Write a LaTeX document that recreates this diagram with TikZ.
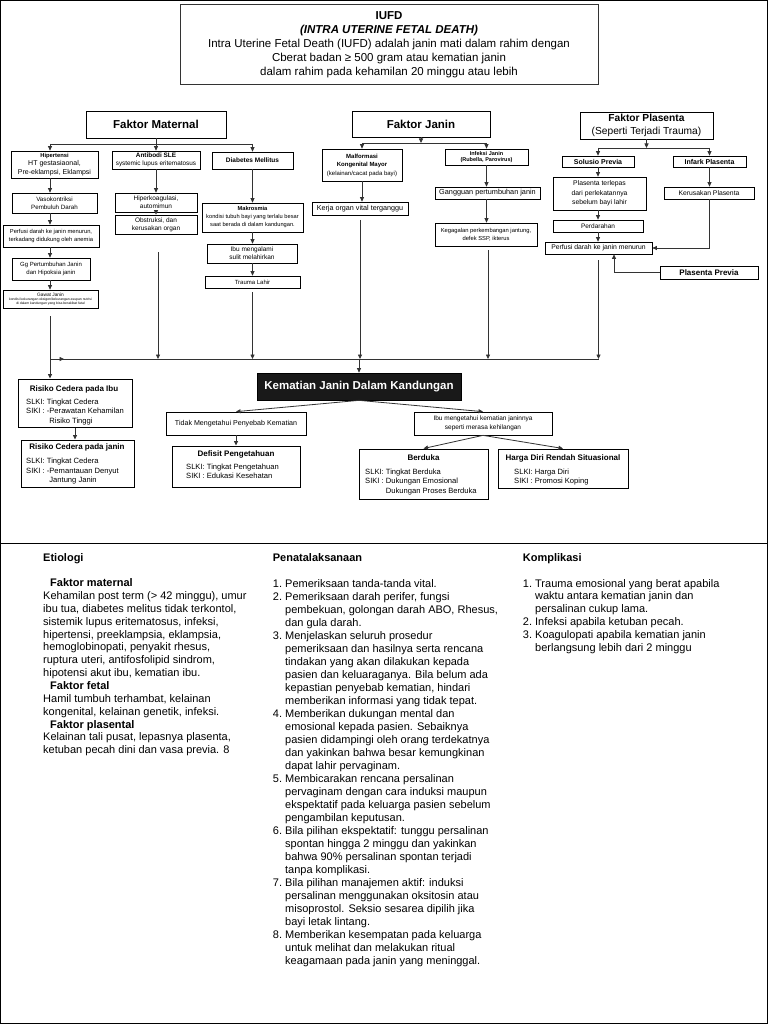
\documentclass[tikz,border=0pt]{standalone}
\usepackage{fontspec}
\setmainfont{Liberation Sans}
\usetikzlibrary{arrows.meta,calc}
\newcommand\myfs[2]{\fontsize{#1}{#2}\selectfont}
\begin{document}
\begin{tikzpicture}[x=1pt,y=-1pt,
  bx/.style={draw=black, line width=0.7pt, inner sep=0pt, align=center, fill=white},
  lbx/.style={draw=black, line width=1pt, inner sep=0pt, fill=white},
  conn/.style={draw=black!80, line width=0.8pt},
  arr/.style={conn, -{Triangle[length=4.5pt,width=4pt]}},
  ttl/.style={anchor=base, inner sep=0pt, font=\myfs{8}{9.5}\bfseries},
  bdy/.style={anchor=base west, inner sep=0pt, font=\myfs{7.6}{9.3}},
  col/.style={anchor=base west, inner sep=0pt, font=\myfs{11}{12.85}}]
\useasboundingbox (0,0) rectangle (768,1024);
\fill[white] (0,0) rectangle (768,1024);
\draw[line width=1.3pt] (0.65,0.65) rectangle (767.35,1023.35);
\draw[line width=1pt] (0,543) -- (768,543);

% ---------- title and factor boxes
\node[bx, line width=1pt, draw=black!80, minimum width=418pt, minimum height=80pt, font=\myfs{11.5}{14}] (title) at (389,45)
 {\textbf{IUFD}\\\textbf{\textit{(INTRA UTERINE FETAL DEATH)}}\\Intra Uterine Fetal Death (IUFD) adalah janin mati dalam rahim dengan\\Cberat badan ≥ 500 gram atau kematian janin\\dalam rahim pada kehamilan 20 minggu atau lebih};
\node[bx, line width=0.9pt, minimum width=140pt, minimum height=27pt, font=\myfs{11.5}{14}\bfseries] (fm) at (156,124.5) {Faktor Maternal};
\node[bx, line width=0.9pt, minimum width=138pt, minimum height=26pt, font=\myfs{11.5}{14}\bfseries] (fj) at (421,124) {Faktor Janin};
\node[bx, line width=0.9pt, minimum width=133pt, minimum height=27pt, font=\myfs{10.2}{12.5}] (fp) at (646.5,125.5) {\textbf{Faktor Plasenta}\\(Seperti Terjadi Trauma)};

% ---------- maternal
\node[bx, minimum width=87pt, minimum height=27pt, font=\myfs{7}{8.2}] (hip) at (54.5,164.5) {{\myfs{5.8}{8.2}\bfseries Hipertensi}\\HT gestasiaonal,\\Pre-eklampsi, Eklampsi};
\node[bx, minimum width=85pt, minimum height=20pt, font=\myfs{6.2}{7.6}] (vaso) at (54.5,203) {Vasokontriksi\\Pembuluh Darah};
\node[bx, minimum width=96pt, minimum height=22pt, font=\myfs{5.8}{8}] (perf1) at (51,236) {Perfusi darah ke janin menurun,\\terkadang didukung oleh anemia};
\node[bx, minimum width=78pt, minimum height=22pt, font=\myfs{6}{8}] (gg) at (51,269) {Gg Pertumbuhan Janin\\dan Hipoksia janin};
\node[bx, minimum width=95pt, minimum height=18pt, font=\myfs{3.4}{4.2}] (gawat) at (50.5,299) {{\myfs{4.8}{6}Gawat Janin}\\kondisi kekurangan oksigen/kekurangan asupan nutrisi\\di dalam kandungan yang bisa berakibat fatal};
\node[bx, minimum width=88pt, minimum height=18pt, font=\myfs{6.4}{7.6}] (anti) at (156,160) {{\bfseries Antibodi SLE}\\systemic lupus eritematosus};
\node[bx, minimum width=82pt, minimum height=19pt, font=\myfs{6.5}{8}] (hiper) at (156,202.5) {Hiperkoagulasi,\\automimun};
\node[bx, minimum width=82pt, minimum height=19pt, font=\myfs{6.5}{8}] (obst) at (156,224.5) {Obstruksi, dan\\kerusakan organ};
\node[bx, minimum width=81pt, minimum height=17pt, font=\myfs{6.5}{8}\bfseries] (diab) at (252.5,160.5) {Diabetes Mellitus};
\node[bx, minimum width=101pt, minimum height=29pt, font=\myfs{5.7}{8}] (makro) at (252.5,217.5) {{\bfseries Makrosmia}\\kondisi tubuh bayi yang terlalu besar\\saat berada di dalam kandungan.};
\node[bx, minimum width=90pt, minimum height=19pt, font=\myfs{6.5}{8}] (ibumeng) at (252,253.5) {Ibu mengalami\\sulit melahirkan};
\node[bx, minimum width=95pt, minimum height=12pt, font=\myfs{6}{7}] (trauma) at (252.5,282) {Trauma Lahir};

% ---------- janin
\node[bx, minimum width=80pt, minimum height=32pt, font=\myfs{6}{8.5}] (malf) at (362,165) {{\bfseries Malformasi}\\{\bfseries Kongenital Mayor}\\(kelainan/cacat pada bayi)};
\node[bx, minimum width=96pt, minimum height=13pt, font=\myfs{7.2}{8}] (kerja) at (360,208.5) {Kerja organ vital terganggu};
\node[bx, minimum width=83pt, minimum height=16pt, font=\myfs{5.5}{6.5}\bfseries] (infek) at (486.5,157) {Infeksi Janin\\(Rubella, Parovirus)};
\node[bx, minimum width=105pt, minimum height=12pt, font=\myfs{7.3}{8}] (gangg) at (487.5,193) {Gangguan pertumbuhan janin};
\node[bx, minimum width=102pt, minimum height=23pt, font=\myfs{5.8}{8}] (kegag) at (486,234.5) {Kegagalan perkembangan jantung,\\defek SSP, ikterus};

% ---------- plasenta
\node[bx, minimum width=72pt, minimum height=11pt, font=\myfs{7}{8}\bfseries] (solusio) at (598,161.5) {Solusio Previa};
\node[bx, minimum width=73pt, minimum height=11pt, font=\myfs{7}{8}\bfseries] (infark) at (709.5,161.5) {Infark Plasenta};
\node[bx, minimum width=93pt, minimum height=33pt, font=\myfs{6.8}{9.5}] (plater) at (599.5,193.5) {Plasenta terlepas\\dari perlekatannya\\sebelum bayi lahir};
\node[bx, minimum width=90pt, minimum height=12pt, font=\myfs{6.5}{8}] (perdar) at (598,226) {Perdarahan};
\node[bx, minimum width=107pt, minimum height=12pt, font=\myfs{6.8}{8}] (perf2) at (598.5,248) {Perfusi darah ke janin menurun};
\node[bx, minimum width=90pt, minimum height=12pt, font=\myfs{6.8}{8}] (kerus) at (709,193) {Kerusakan Plasenta};
\node[bx, minimum width=98pt, minimum height=13pt, font=\myfs{8}{9}\bfseries] (plprev) at (709,272.5) {Plasenta Previa};

% ---------- outcome
\node[bx, fill=black!90, text=white, minimum width=204pt, minimum height=27pt, font=\myfs{11.5}{14}\bfseries] (kemat) at (359,386.5) {Kematian Janin Dalam Kandungan};
\node[bx, minimum width=140pt, minimum height=23pt, font=\myfs{7.1}{8}] (tidak) at (236,423.5) {Tidak Mengetahui Penyebab Kematian};
\node[bx, minimum width=138pt, minimum height=23pt, font=\myfs{6.5}{9}] (ibutahu) at (483,423.5) {Ibu mengetahui kematian janinnya\\seperti merasa kehilangan};

\node[lbx, minimum width=114pt, minimum height=48pt] (rci) at (75,403) {};
\node[lbx, minimum width=113pt, minimum height=47pt] (rcj) at (77.5,463.5) {};
\node[lbx, minimum width=128pt, minimum height=41pt] (defisit) at (236,466.5) {};
\node[lbx, minimum width=129pt, minimum height=50pt] (berduka) at (423.5,474) {};
\node[lbx, minimum width=130pt, minimum height=39pt] (harga) at (563,468.5) {};

\node[ttl] (rciT) at (74,391) {Risiko Cedera pada Ibu};
\node[bdy] (rciB) at (26,404.4) {\begin{tabular}[t]{@{}l@{}}SLKI: Tingkat Cedera\\SIKI : -Perawatan Kehamilan\\\hspace*{23.2pt}Risiko Tinggi\end{tabular}};
\node[ttl] (rcjT) at (77,449.6) {Risiko Cedera pada janin};
\node[bdy] (rcjB) at (26,463.7) {\begin{tabular}[t]{@{}l@{}}SLKI: Tingkat Cedera\\SIKI : -Pemantauan Denyut\\\hspace*{23.2pt}Jantung Janin\end{tabular}};
\node[ttl] (defT) at (236,456.2) {Defisit Pengetahuan};
\node[bdy] (defB) at (186,469.4) {\begin{tabular}[t]{@{}l@{}}SLKI: Tingkat Pengetahuan\\SIKI : Edukasi Kesehatan\end{tabular}};
\node[ttl] (berT) at (423.5,460.6) {Berduka};
\node[bdy] (berB) at (365,474.4) {\begin{tabular}[t]{@{}l@{}}SLKI: Tingkat Berduka\\SIKI : Dukungan Emosional\\\hspace*{20.7pt}Dukungan Proses Berduka\end{tabular}};
\node[ttl] (harT) at (563,460.6) {Harga Diri Rendah Situasional};
\node[bdy] (harB) at (514,474.4) {\begin{tabular}[t]{@{}l@{}}SLKI: Harga Diri\\SIKI : Promosi Koping\end{tabular}};

% ---------- connectors: maternal
\coordinate (cL) at (50,0);
\coordinate (mL) at (50,144);
\coordinate (mR) at (252.5,144);
\draw[conn] (mL) -- (mR);
\draw[arr] (fm.south) -- (anti.north);
\draw[arr] (mL) -- (hip.north -| cL);
\draw[arr] (mR) -- (diab.north);
\draw[arr] (hip.south -| cL) -- (vaso.north -| cL);
\draw[arr] (vaso.south -| cL) -- (perf1.north -| cL);
\draw[arr] (perf1.south -| cL) -- (gg.north -| cL);
\draw[arr] (gg.south -| cL) -- (gawat.north -| cL);
\coordinate (g1) at (50,316);
\draw[arr] (g1) -- (rci.north -| cL);
\draw[arr] (anti.south) -- (hiper.north);
\draw[arr] (hiper.south) -- (obst.north);
\draw[arr] (diab.south) -- (makro.north);
\draw[arr] (makro.south) -- (ibumeng.north -| makro.south);
\draw[arr] (ibumeng.south -| makro.south) -- (trauma.north -| makro.south);

% main collecting line
\coordinate (jL) at (50,359);
\coordinate (jR) at (598.5,359);
\coordinate (jA) at (64,359);
\draw[conn] (jL) -- (jR);
\draw[arr] (jL) -- (jA);
\coordinate (o1) at (158,252);   \coordinate (o2) at (158,359);
\coordinate (t1) at (252.5,292); \coordinate (t2) at (252.5,359);
\coordinate (k1) at (360,220);   \coordinate (k2) at (360,359);
\coordinate (e1) at (488,250);   \coordinate (e2) at (488,359);
\coordinate (p1) at (598.5,260); \coordinate (p2) at (598.5,359);
\coordinate (km) at (359,359);
\draw[arr] (o1) -- (o2);
\draw[arr] (t1) -- (t2);
\draw[arr] (k1) -- (k2);
\draw[arr] (e1) -- (e2);
\draw[arr] (p1) -- (p2);
\draw[arr] (km) -- (kemat.north);

% janin
\coordinate (jnL) at (362,143);
\coordinate (jnR) at (486.5,143);
\draw[conn] (jnL) -- (jnR);
\draw[arr] (fj.south) -- (fj.south |- jnL);
\draw[arr] (jnL) -- (malf.north);
\draw[arr] (jnR) -- (infek.north);
\draw[arr] (malf.south) -- (malf.south |- kerja.north);
\draw[arr] (infek.south) -- (infek.south |- gangg.north);
\draw[arr] (infek.south |- gangg.south) -- (infek.south |- kegag.north);

% plasenta
\coordinate (pL) at (598,148);
\coordinate (pR) at (709.5,148);
\draw[conn] (pL) -- (pR);
\draw[arr] (fp.south) -- (fp.south |- pL);
\draw[arr] (pL) -- (solusio.north);
\draw[arr] (pR) -- (infark.north);
\draw[arr] (solusio.south) -- (solusio.south |- plater.north);
\draw[arr] (solusio.south |- plater.south) -- (solusio.south |- perdar.north);
\draw[arr] (perdar.south) -- (perdar.south |- perf2.north);
\draw[arr] (infark.south) -- (infark.south |- kerus.north);
\draw[arr] (kerus.south) -- (kerus.south |- perf2.east) -- (perf2.east);
\coordinate (pv) at (614,272.5);
\draw[arr] (plprev.west) -- (pv) -- (pv |- perf2.south);

% outcome connectors
\draw[arr] (kemat.south) -- (tidak.north);
\draw[arr] (kemat.south) -- (ibutahu.north);
\draw[arr] (tidak.south) -- (defisit.north);
\draw[arr] (ibutahu.south) -- (berduka.north);
\draw[arr] (ibutahu.south) -- (harga.north);
\draw[arr] (rci.south) -- (rci.south |- rcj.north);

% ---------- lower text columns
\node[col] (etio) at (43,561) {\begin{tabular}[t]{@{}l@{}}\textbf{Etiologi}\\ \\
\hspace*{7pt}\textbf{Faktor maternal}\\
Kehamilan post term (> 42 minggu), umur\\
ibu tua, diabetes melitus tidak terkontol,\\
sistemik lupus eritematosus, infeksi,\\
hipertensi, preeklampsia, eklampsia,\\
hemoglobinopati, penyakit rhesus,\\
ruptura uteri, antifosfolipid sindrom,\\
hipotensi akut ibu, kematian ibu.\\
\hspace*{7pt}\textbf{Faktor fetal}\\
Hamil tumbuh terhambat, kelainan\\
kongenital, kelainan genetik, infeksi.\\
\hspace*{7pt}\textbf{Faktor plasental}\\
Kelainan tali pusat, lepasnya plasenta,\\
ketuban pecah dini dan vasa previa. 8\end{tabular}};

\node[col] (penH) at (272.7,561) {\textbf{Penatalaksanaan}};
\node[col, font=\myfs{11}{13}] (pen) at (272.7,587) {\begin{tabular}[t]{@{}l@{\hspace{3.1pt}}l@{}}
1. & Pemeriksaan tanda-tanda vital.\\
2. & Pemeriksaan darah perifer, fungsi\\
 & pembekuan, golongan darah ABO, Rhesus,\\
 & dan gula darah.\\
3. & Menjelaskan seluruh prosedur\\
 & pemeriksaan dan hasilnya serta rencana\\
 & tindakan yang akan dilakukan kepada\\
 & pasien dan keluaraganya. Bila belum ada\\
 & kepastian penyebab kematian, hindari\\
 & memberikan informasi yang tidak tepat.\\
4. & Memberikan dukungan mental dan\\
 & emosional kepada pasien. Sebaiknya\\
 & pasien didampingi oleh orang terdekatnya\\
 & dan yakinkan bahwa besar kemungkinan\\
 & dapat lahir pervaginam.\\
5. & Membicarakan rencana persalinan\\
 & pervaginam dengan cara induksi maupun\\
 & ekspektatif pada keluarga pasien sebelum\\
 & pengambilan keputusan.\\
6. & Bila pilihan ekspektatif: tunggu persalinan\\
 & spontan hingga 2 minggu dan yakinkan\\
 & bahwa 90\% persalinan spontan terjadi\\
 & tanpa komplikasi.\\
7. & Bila pilihan manajemen aktif: induksi\\
 & persalinan menggunakan oksitosin atau\\
 & misoprostol. Seksio sesarea dipilih jika\\
 & bayi letak lintang.\\
8. & Memberikan kesempatan pada keluarga\\
 & untuk melihat dan melakukan ritual\\
 & keagamaan pada janin yang meninggal.
\end{tabular}};

\node[col] (komH) at (522.7,561) {\textbf{Komplikasi}};
\node[col] (kom) at (522.7,587) {\begin{tabular}[t]{@{}l@{\hspace{3.1pt}}l@{}}
1. & Trauma emosional yang berat apabila\\
 & waktu antara kematian janin dan\\
 & persalinan cukup lama.\\
2. & Infeksi apabila ketuban pecah.\\
3. & Koagulopati apabila kematian janin\\
 & berlangsung lebih dari 2 minggu
\end{tabular}};
\end{tikzpicture}
\end{document}
